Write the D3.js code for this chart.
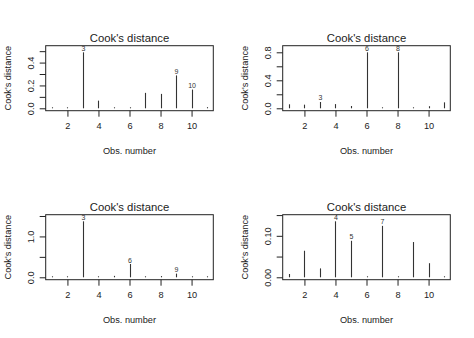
<!DOCTYPE html>
<html><head><meta charset="utf-8">
<script src="https://cdn.jsdelivr.net/npm/d3@7"></script>
<style>
body{margin:0;background:#fff;}
svg{display:block;font-family:"Liberation Sans",Arial,sans-serif;}
</style></head>
<body><svg id="c" width="474" height="338"></svg>
<script>
const obs = [1,2,3,4,5,6,7,8,9,10,11];
const cook1 = [0.003,0.003,0.49,0.067,0.003,0.002,0.135,0.126,0.288,0.164,0.01];
const cook2 = [0.057,0.052,0.09,0.06,0.033,0.80,0.005,0.80,0.004,0.03,0.085];
const cook3 = [0.02,0.005,1.37,0.02,0.035,0.325,0.005,0.03,0.09,0.005,0.02];
const cook4 = [0.008,0.064,0.0215,0.135,0.088,0.001,0.124,0.0005,0.085,0.034,0.002];
const yTicks1 = [0,0.1,0.2,0.3,0.4,0.5], yLabels1 = [0,0.2,0.4];
const yTicks2 = [0,0.2,0.4,0.6,0.8], yLabels2 = [0,0.4,0.8];
const yTicks3 = [0,0.5,1.0,1.5], yLabels3 = [0,1.0];
const yTicks4 = [0,0.05,0.10,0.15], yLabels4 = [0,0.10];
const yFmt = [".1f",".1f",".1f",".2f"];
const xTicks = [2,4,6,8,10];
const title = "Cook's distance", xTitle = "Obs. number", yTitle = "Cook's distance";

const panels = [
  {dx:0, dy:0, vals:cook1, yt:yTicks1, yl:yLabels1, f:yFmt[0]},
  {dx:237, dy:0, vals:cook2, yt:yTicks2, yl:yLabels2, f:yFmt[1]},
  {dx:0, dy:169, vals:cook3, yt:yTicks3, yl:yLabels3, f:yFmt[2]},
  {dx:237, dy:169, vals:cook4, yt:yTicks4, yl:yLabels4, f:yFmt[3]}
];
const svg = d3.select("#c");
const L = 45.7, R = 213.3, T = 45.7, B = 110.7;
const col = "#222";

panels.forEach(p => {
  const g = svg.append("g").attr("transform", `translate(${p.dx},${p.dy})`);
  const x = d3.scaleLinear().domain([1 - 0.4, 11 + 0.4]).range([L, R]);
  const top = d3.max(p.vals) * 1.075;
  const y = d3.scaleLinear().domain([-0.04*top, 1.04*top]).range([B, T]);

  // bars (type = "h")
  g.selectAll("line.bar").data(obs).enter().append("line")
    .attr("x1", d => Math.round(x(d)) + 0.5).attr("x2", d => Math.round(x(d)) + 0.5)
    .attr("y1", y(0)).attr("y2", (d,i) => Math.min(y(0) - 1, y(p.vals[i])))
    .attr("stroke", "#333").attr("stroke-width", 1.1);

  // id labels: 3 largest
  const idx = d3.range(obs.length).sort((a,b) => p.vals[b]-p.vals[a]).slice(0,3);
  g.selectAll("text.id").data(idx).enter().append("text")
    .attr("x", i => x(obs[i]) + 0.5).attr("y", i => y(p.vals[i]) - 1.5)
    .attr("text-anchor","middle").attr("font-size", 7).attr("fill", "#333")
    .text(i => obs[i]);

  // box
  g.append("rect").attr("x", L).attr("y", T).attr("width", R-L).attr("height", B-T)
    .attr("fill","none").attr("stroke", col).attr("stroke-width", 1);

  // x axis
  const xa = g.append("g").attr("transform", `translate(0,${B})`)
    .call(d3.axisBottom(x).tickValues(xTicks).tickSize(6).tickPadding(6).tickFormat(d3.format("d")));
  xa.select(".domain").remove();
  xa.selectAll("line").attr("stroke", col);
  xa.selectAll("text").attr("font-size", 9.2).attr("fill", col).attr("font-family","Liberation Sans, Arial, sans-serif");

  // y axis
  const fmt = d3.format(p.f);
  const ya = g.append("g").attr("transform", `translate(${L},0)`)
    .call(d3.axisLeft(y).tickValues(p.yt).tickSize(6)
      .tickFormat(d => p.yl.some(v => Math.abs(v - d) < 1e-9) ? fmt(d) : ""));
  ya.select(".domain").remove();
  ya.selectAll("line").attr("stroke", col);
  ya.selectAll("text").attr("font-size", 9.2).attr("fill", col)
    .attr("font-family","Liberation Sans, Arial, sans-serif")
    .attr("x", null).attr("dy", null)
    .attr("text-anchor","middle")
    .attr("transform","translate(-15,0) rotate(-90)")
    .attr("y", 0).attr("dy","0.35em");

  // titles
  g.append("text").attr("x", (L+R)/2).attr("y", 41.5).attr("text-anchor","middle")
    .attr("font-size", 11.3).attr("fill", col).text(title);
  g.append("text").attr("x", (L+R)/2).attr("y", 154.3).attr("text-anchor","middle")
    .attr("font-size", 9.2).attr("fill", col).text(xTitle);
  g.append("text").attr("transform", `translate(10.5,${(T+B)/2}) rotate(-90)`)
    .attr("text-anchor","middle").attr("font-size", 9.2).attr("fill", col).text(yTitle);
});
</script></body></html>
